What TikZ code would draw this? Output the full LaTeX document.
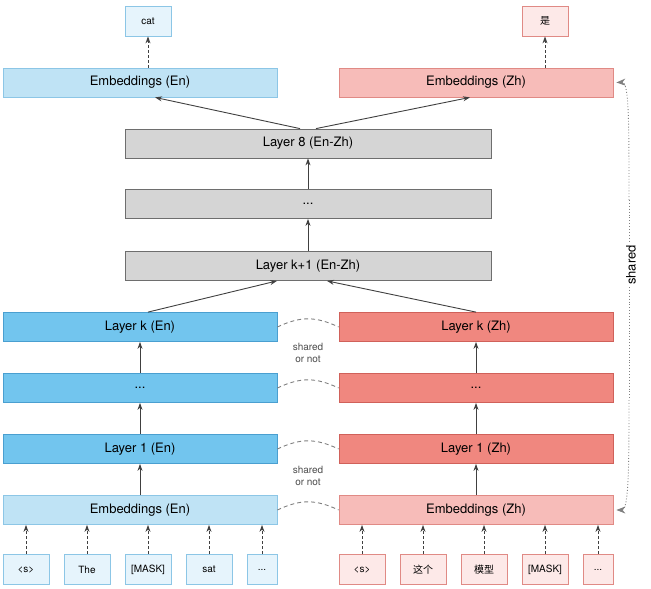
\documentclass[tikz,border=0pt]{standalone}
\usepackage{fontspec}
\setmainfont{TeX Gyre Heros}
\newfontfamily\cjk{Noto Sans CJK SC}
\usetikzlibrary{arrows.meta}
\definecolor{eb}{HTML}{BFE3F5}\definecolor{ebd}{HTML}{8CC6E6}
\definecolor{lb}{HTML}{72C5EE}\definecolor{lbd}{HTML}{4A9FD0}
\definecolor{er}{HTML}{F7BCB9}\definecolor{erd}{HTML}{E08A85}
\definecolor{lr}{HTML}{F0877F}\definecolor{lrd}{HTML}{D0615A}
\definecolor{gy}{HTML}{D5D5D5}\definecolor{gyd}{HTML}{6E6E6E}
\definecolor{tb}{HTML}{E6F4FC}\definecolor{tr}{HTML}{FDE9E8}
\begin{document}
\begin{tikzpicture}[x=1pt,y=-1pt,
 box/.style={draw,minimum height=29pt,inner sep=0pt,font=\fontsize{13}{15}\selectfont,line width=0.8pt},
 wide/.style={box,minimum width=274pt},
 gw/.style={box,minimum width=366pt,fill=gy,draw=gyd},
 tok/.style={draw,minimum width=46pt,minimum height=30pt,inner sep=0pt,font=\fontsize{10}{12}\selectfont,line width=0.8pt},
 tke/.style={tok,fill=tb,draw=ebd},
 tkz/.style={tok,fill=tr,draw=erd},
 ar/.style={-{Stealth[length=7pt,width=5pt]},line width=0.9pt,draw=black!75},
 dar/.style={ar,dashed,dash pattern=on 3pt off 2pt},
 sh/.style={gray,dashed,line width=0.9pt,dash pattern=on 4pt off 3pt},
 lab/.style={font=\fontsize{10}{12}\selectfont,text=black!70,align=center,inner sep=0pt}]
\useasboundingbox (0,0) rectangle (651,589);
\node[tke] (cat) at (148,21) {cat};
\node[tkz] (shi) at (545,21) {\cjk 是};
\node[wide,fill=eb,draw=ebd] (eet) at (140,82.5) {Embeddings (En)};
\node[wide,fill=er,draw=erd] (ezt) at (476,82.5) {Embeddings (Zh)};
\node[gw] (l8) at (308,143.5) {Layer 8 (En-Zh)};
\node[gw] (ld) at (308,204) {...};
\node[gw] (lk1) at (308,266) {Layer k+1 (En-Zh)};
\node[wide,fill=lb,draw=lbd] (lke) at (140,327) {Layer k (En)};
\node[wide,fill=lr,draw=lrd] (lkz) at (476,327) {Layer k (Zh)};
\node[wide,fill=lb,draw=lbd] (lde) at (140,388) {...};
\node[wide,fill=lr,draw=lrd] (ldz) at (476,388) {...};
\node[wide,fill=lb,draw=lbd] (l1e) at (140,449) {Layer 1 (En)};
\node[wide,fill=lr,draw=lrd] (l1z) at (476,449) {Layer 1 (Zh)};
\node[wide,fill=eb,draw=ebd] (eeb) at (140,510) {Embeddings (En)};
\node[wide,fill=er,draw=erd] (ezb) at (476,510) {Embeddings (Zh)};
\node[tke] (ta) at (26,569.5) {<s>};
\node[tke] (tb) at (87,569.5) {The};
\node[tke] (tc) at (148,569.5) {[MASK]};
\node[tke] (td) at (209,569.5) {sat};
\node[tke,minimum width=30pt] (te) at (262,569.5) {...};
\node[tkz] (ua) at (362,569.5) {<s>};
\node[tkz] (ub) at (423,569.5) {\cjk 这个};
\node[tkz] (uc) at (484,569.5) {\cjk 模型};
\node[tkz] (ud) at (545,569.5) {[MASK]};
\node[tkz,minimum width=30pt] (ue) at (598,569.5) {...};
\foreach \n in {a,b,c,d,e}{
  \draw[dar] (t\n.north) -- (t\n.north |- eeb.south);
  \draw[dar] (u\n.north) -- (u\n.north |- ezb.south);}
\draw[dar] (eet.north -| cat) -- (cat.south);
\draw[dar] (ezt.north -| shi) -- (shi.south);
\draw[ar] (eeb.north) -- (l1e.south);
\draw[ar] (l1e.north) -- (lde.south);
\draw[ar] (lde.north) -- (lke.south);
\draw[ar] (ezb.north) -- (l1z.south);
\draw[ar] (l1z.north) -- (ldz.south);
\draw[ar] (ldz.north) -- (lkz.south);
\draw[ar] ([xshift=8pt]lke.north) -- ([xshift=-31pt]lk1.south);
\draw[ar] (lkz.north) -- ([xshift=19pt]lk1.south);
\draw[ar] (lk1.north) -- (ld.south);
\draw[ar] (ld.north) -- (l8.south);
\draw[ar] ([xshift=-8pt]l8.north) -- ([xshift=15pt]eet.south);
\draw[ar] ([xshift=8pt]l8.north) -- ([xshift=-6pt]ezt.south);
\foreach \a/\b in {lke/lkz,lde/ldz,l1e/l1z,eeb/ezb}
  \draw[sh] (\a.east) .. controls ([xshift=23pt,yshift=-4pt]\a.north east) and ([xshift=-23pt,yshift=-4pt]\b.north west) .. (\b.west);
\node[lab] at (308,353) {shared\\or not};
\node[lab] at (308,476) {shared\\or not};
\draw[gray,dotted,line width=0.9pt,-{Stealth[length=9pt,width=7pt]}] (629,400) .. controls (629,460) and (629,510) .. ([xshift=3pt]ezb.east);
\draw[gray,dotted,line width=0.9pt,-{Stealth[length=9pt,width=7pt]}] (629,200) .. controls (629,120) and (629,82) .. ([xshift=3pt]ezt.east);
\draw[gray,dotted,line width=0.9pt] (629,200) -- (629,400);
\node[rotate=90,font=\fontsize{13}{15}\selectfont,fill=white,inner sep=2pt] (shl) at (631,265) {shared};
\end{tikzpicture}
\end{document}
